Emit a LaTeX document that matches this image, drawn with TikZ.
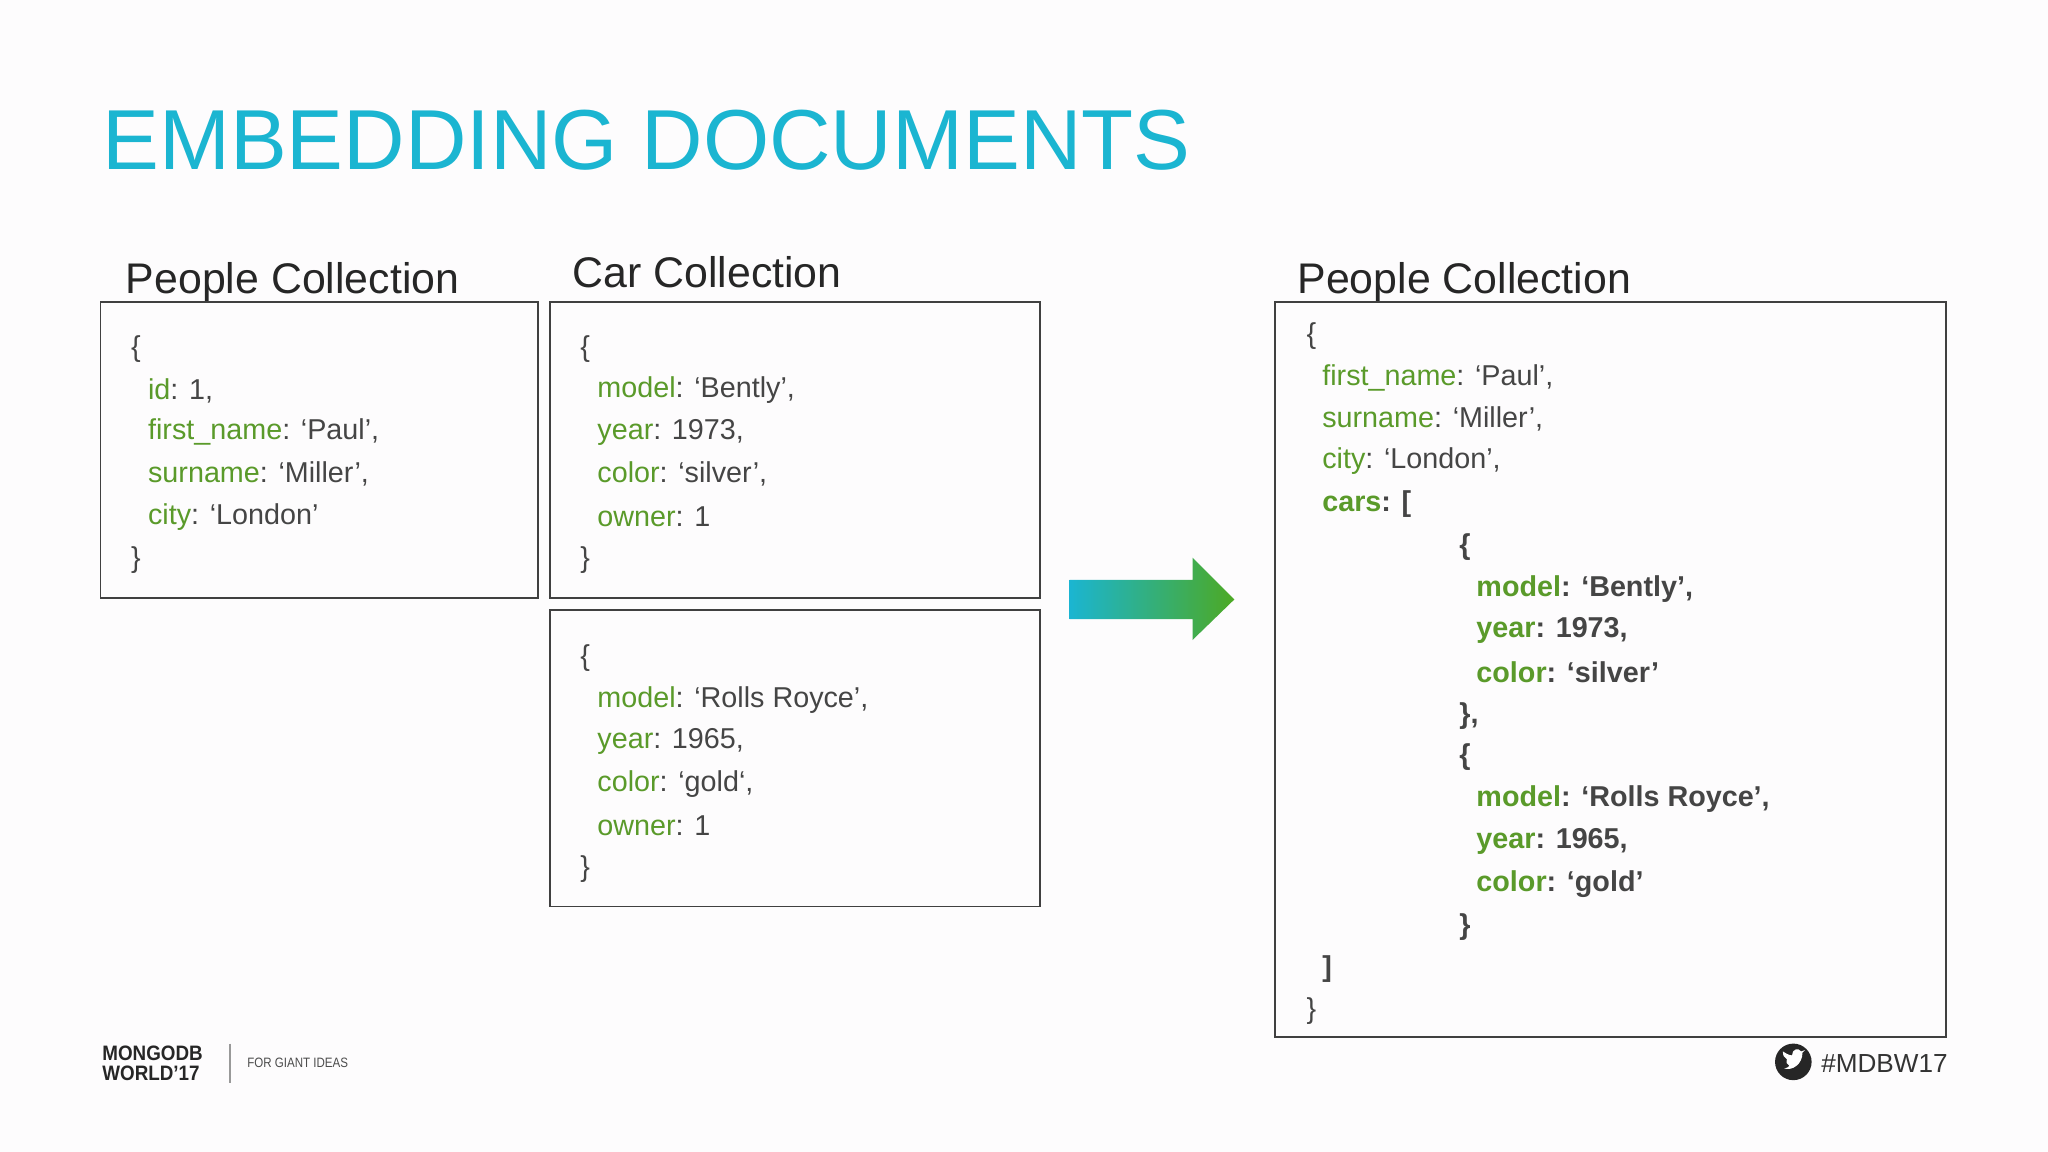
\documentclass[tikz,border=0pt]{standalone}
\usepackage{fontspec}
\setmainfont{Liberation Sans}
\definecolor{ttl}{HTML}{1BB5D1}
\definecolor{grn}{HTML}{5A9A2A}
\definecolor{txt}{HTML}{454545}
\definecolor{bg}{HTML}{FDFCFD}
\newcommand{\kv}[2]{\textcolor{grn}{#1}: #2}
\newcommand{\bkv}[2]{\textbf{\textcolor{grn}{#1}: #2}}
\begin{document}
\begin{tikzpicture}[x=0.5pt,y=-0.5pt,
  box/.style={draw=black!75,line width=0.7pt},
  ln/.style={anchor=west,inner sep=0pt,text=txt,font=\fontsize{11}{13}\selectfont},
  hdr/.style={anchor=base west,inner sep=0pt,text=black!85,font=\fontsize{16.4}{19}\selectfont}]
\fill[bg] (0,0) rectangle (1568,882);
\useasboundingbox (0,0) rectangle (1568,882);
\node[anchor=base west,inner sep=0pt,text=ttl,font=\fontsize{32.6}{38}\selectfont] (title) at (78,130) {EMBEDDING DOCUMENTS};
% headers
\node[hdr] (h1) at (96,225) {People Collection};
\node[hdr] (h2) at (438,220) {Car Collection};
\node[hdr] (h3) at (993,225) {People Collection};
% boxes
\draw[box] (77,231) rectangle (412,458);
\draw[box] (421,231) rectangle (796,458);
\draw[box] (421,467) rectangle (796,694);
\draw[box] (976,231) rectangle (1490,794);
\begin{scope}[yshift=-1pt]
% box1
\node[ln] (a0) at (100,265) {\{};
\node[ln] (a1) at (113,297) {\kv{id}{1,}};
\node[ln] (a2) at (113,329) {\kv{first\_name}{‘Paul’,}};
\node[ln] (a3) at (113,361) {\kv{surname}{‘Miller’,}};
\node[ln] (a4) at (113,394) {\kv{city}{‘London’}};
\node[ln] (a5) at (100,427) {\}};
% box2
\node[ln] (b0) at (444,265) {\{};
\node[ln] (b1) at (457,297) {\kv{model}{‘Bently’,}};
\node[ln] (b2) at (457,329) {\kv{year}{1973,}};
\node[ln] (b3) at (457,361) {\kv{color}{‘silver’,}};
\node[ln] (b4) at (457,394) {\kv{owner}{1}};
\node[ln] (b5) at (444,427) {\}};
% box3
\node[ln] (c0) at (444,502) {\{};
\node[ln] (c1) at (457,534) {\kv{model}{‘Rolls Royce’,}};
\node[ln] (c2) at (457,566) {\kv{year}{1965,}};
\node[ln] (c3) at (457,598) {\kv{color}{‘gold‘,}};
\node[ln] (c4) at (457,630) {\kv{owner}{1}};
\node[ln] (c5) at (444,663) {\}};
% right box
\node[ln] (d0) at (1000,255) {\{};
\node[ln] (d1) at (1012,287) {\kv{first\_name}{‘Paul’,}};
\node[ln] (d2) at (1012,319) {\kv{surname}{‘Miller’,}};
\node[ln] (d3) at (1012,351) {\kv{city}{‘London’,}};
\node[ln] (d4) at (1012,384) {\bkv{cars}{[}};
\node[ln,font=\bfseries\fontsize{11}{13}\selectfont] (d5) at (1117,417) {\{};
\node[ln] (d6) at (1130,449) {\bkv{model}{‘Bently’,}};
\node[ln] (d7) at (1130,481) {\bkv{year}{1973,}};
\node[ln] (d8) at (1130,513) {\bkv{color}{‘silver’}};
\node[ln,font=\bfseries\fontsize{11}{13}\selectfont] (d9) at (1117,546) {\},};
\node[ln,font=\bfseries\fontsize{11}{13}\selectfont] (d10) at (1117,578) {\{};
\node[ln] (d11) at (1130,610) {\bkv{model}{‘Rolls Royce’,}};
\node[ln] (d12) at (1130,642) {\bkv{year}{1965,}};
\node[ln] (d13) at (1130,675) {\bkv{color}{‘gold’}};
\node[ln,font=\bfseries\fontsize{11}{13}\selectfont] (d14) at (1117,708) {\}};
\node[ln,font=\bfseries\fontsize{11}{13}\selectfont] (d15) at (1012,740) {]};
\node[ln] (d16) at (1000,772) {\}};
\end{scope}
% arrow
\shade[left color=ttl,right color=grn!85!green]
  (819,444) -- (913,444) -- (913,427) -- (945,459) -- (913,490) -- (913,474) -- (819,474) -- cycle;
% footer
\node[anchor=west,inner sep=0pt,align=left,text=black!85,font=\bfseries\fontsize{8}{7.8}\selectfont] (logo) at (78,814) {\scalebox{0.9}[1]{MONGODB}\\\scalebox{0.9}[1]{WORLD’17}};
\draw[black!40,line width=0.5pt] (176,799) -- (176,829);
\node[anchor=west,inner sep=0pt,text=black!70,font=\fontsize{5.2}{6}\selectfont] (slogan) at (189,814) {\scalebox{0.85}[1]{FOR GIANT IDEAS}};
\fill[black!85] (1373,813) circle (14);
\fill[white] (1366,818) .. controls (1372,820) and (1380,815) .. (1380,806) -- (1382,804) -- (1379,805) .. controls (1377,802) and (1372,803) .. (1372,808) .. controls (1369,808) and (1367,806) .. (1365,805) .. controls (1365,808) and (1366,810) .. (1368,811) .. controls (1367,813) and (1368,815) .. (1370,816) .. controls (1369,817) and (1368,818) .. (1366,818);
\node[anchor=west,inner sep=0pt,text=black!80,font=\fontsize{10}{11}\selectfont] (tag) at (1394,814) {\#MDBW17};
\end{tikzpicture}
\end{document}
